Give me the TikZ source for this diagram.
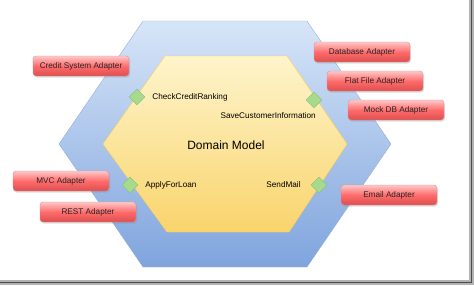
\documentclass[tikz,border=0pt]{standalone}
\usepackage{fontspec}
\setmainfont{Liberation Sans}
\usetikzlibrary{positioning,shapes.geometric,shadows}
\definecolor{hexbluetop}{HTML}{D7E5F8}
\definecolor{hexbluebot}{HTML}{7FA4DD}
\definecolor{hexblueline}{HTML}{95B0D8}
\definecolor{hexyellowtop}{HTML}{FEF4CC}
\definecolor{hexyellowbot}{HTML}{F9D46C}
\definecolor{portgreen}{HTML}{A8DA8C}
\definecolor{adapterred}{HTML}{DD4F4F}
\begin{document}
\begin{tikzpicture}[
    x=1pt, y=-1pt,
    adapter/.style={rectangle, rounded corners=3pt, draw=red!50!black!40, minimum width=96pt, minimum height=20pt,
        top color=red!22, bottom color=adapterred, middle color=red!58, text=black!85,
        font=\fontsize{8.2}{10}\selectfont, drop shadow={opacity=0.25, shadow xshift=1pt, shadow yshift=-1.5pt}},
    port/.style={diamond, draw=green!50!black!50, fill=portgreen, minimum size=16pt, inner sep=0pt},
    portlabel/.style={font=\fontsize{8.2}{10}\selectfont, inner sep=1pt},
    frame/.style={draw=black!70, line width=1pt}
]
    \useasboundingbox (0,0) rectangle (474,285);

    % application hexagon
    \draw[draw=hexblueline, top color=hexbluetop, bottom color=hexbluebot]
        (143,21) -- (307,21) -- (391,144) -- (307,267) -- (143,267) -- (59,144) -- cycle;
    % domain hexagon
    \draw[draw=orange!50!yellow!70, top color=hexyellowtop, bottom color=hexyellowbot]
        (165,56) -- (287,56) -- (347,144) -- (289,232) -- (167,232) -- (103,144) -- cycle;

    \node[font=\fontsize{12}{14}\selectfont] (domain) at (226,145) {Domain Model};

    % ports
    \node[port] (check) at (137,97) {};
    \node[port] (save) at (314,100) {};
    \node[port] (apply) at (130,185) {};
    \node[port] (send) at (319,185) {};

    \node[portlabel, right=6pt of check] (checklbl) {CheckCreditRanking};
    \node[portlabel, anchor=north east] (savelbl) at (317,111) {SaveCustomerInformation};
    \node[portlabel, right=6pt of apply] (applylbl) {ApplyForLoan};
    \node[portlabel, left=9pt of send] (sendlbl) {SendMail};

    % adapters
    \node[adapter] (credit) at (81,66) {Credit System Adapter};
    \node[adapter] (database) at (362,52) {Database Adapter};
    \node[adapter] (flatfile) at (375,81) {Flat File Adapter};
    \node[adapter] (mockdb) at (396,110) {Mock DB Adapter};
    \node[adapter] (mvc) at (61,181) {MVC Adapter};
    \node[adapter] (rest) at (88,212) {REST Adapter};
    \node[adapter] (email) at (389,195) {Email Adapter};

    % screenshot frame
    \fill[black!30] (469,0) rectangle (474,285);
    \fill[black!30] (0,280) rectangle (474,285);
    \draw[frame] (471,0) -- (471,282.5) -- (0,282.5);
\end{tikzpicture}
\end{document}
